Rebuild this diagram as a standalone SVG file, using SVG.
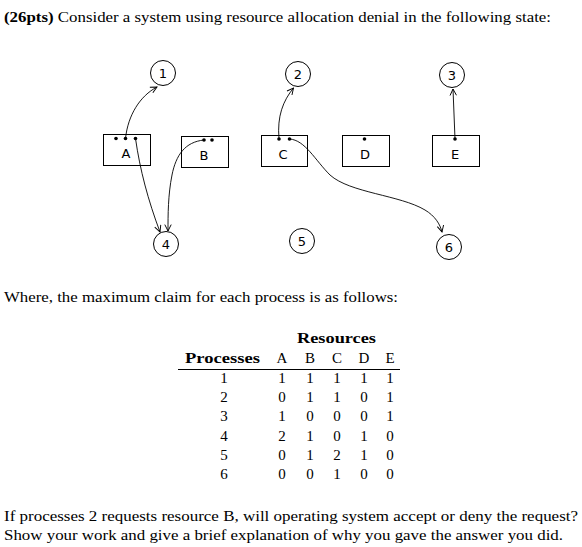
<svg xmlns="http://www.w3.org/2000/svg" width="582" height="547" viewBox="0 0 582 547">
<style>
.t{font-family:"Liberation Serif","Times New Roman",serif;font-size:15px;fill:#000}
.b{font-weight:bold}
.n{font-family:"DejaVu Sans",sans-serif;font-size:13px;fill:#000;text-anchor:middle}
.box{fill:#fff;stroke:#000;stroke-width:1}
.c{fill:#fff;stroke:#000;stroke-width:1}
.e{fill:none;stroke:#000;stroke-width:0.9;marker-end:url(#ah)}
.tc{text-anchor:middle}
</style>
<defs>
<marker id="ah" viewBox="0 0 10 10" refX="9" refY="5" markerWidth="8" markerHeight="8" markerUnits="userSpaceOnUse" orient="auto">
<path d="M1,1 L9,5 L1,9" fill="none" stroke="#000" stroke-width="1.2"/>
</marker>
</defs>
<rect width="582" height="547" fill="#fff"/>
<text class="t" x="4" y="22" textLength="547" lengthAdjust="spacingAndGlyphs"><tspan class="b">(26pts)</tspan> Consider a system using resource allocation denial in the following state:</text>

<g id="n1"><circle class="c" cx="163" cy="73" r="12.5"/><text class="n" x="163" y="77.5">1</text></g>
<g id="n2"><circle class="c" cx="298" cy="74" r="12.5"/><text class="n" x="298" y="78.5">2</text></g>
<g id="n3"><circle class="c" cx="452" cy="75" r="12.5"/><text class="n" x="452" y="79.5">3</text></g>
<g id="n4"><circle class="c" cx="166" cy="244" r="12.5"/><text class="n" x="166" y="248.5">4</text></g>
<g id="n5"><circle class="c" cx="302" cy="241" r="12.5"/><text class="n" x="302" y="245.5">5</text></g>
<g id="n6"><circle class="c" cx="449" cy="247" r="12.5"/><text class="n" x="449" y="251.5">6</text></g>

<g id="rA"><rect class="box" x="103.5" y="134.5" width="47" height="31"/><text class="n" x="126" y="158">A</text>
<circle cx="116" cy="138.5" r="1.8"/><circle cx="125.5" cy="138.5" r="1.8"/><circle cx="135.5" cy="138.5" r="1.8"/></g>
<g id="rB"><rect class="box" x="181.5" y="136.5" width="47" height="31"/><text class="n" x="204" y="159.5">B</text>
<circle cx="204" cy="140" r="1.8"/><circle cx="212" cy="140" r="1.8"/></g>
<g id="rC"><rect class="box" x="261.5" y="135.5" width="46" height="31"/><text class="n" x="283" y="159">C</text>
<circle cx="279" cy="139" r="1.8"/><circle cx="289.5" cy="139" r="1.8"/></g>
<g id="rD"><rect class="box" x="342.5" y="135.5" width="47" height="31"/><text class="n" x="365" y="159">D</text>
<circle cx="364.5" cy="139" r="1.8"/></g>
<g id="rE"><rect class="box" x="432.5" y="135.5" width="47" height="31"/><text class="n" x="455" y="159">E</text>
<circle cx="455" cy="139" r="1.8"/></g>

<g id="connectors">
<path class="e" d="M125.5,138.5 C128,115 140,96 157,87"/>
<path class="e" d="M135.5,138.5 C140,170 148,200 160,232"/>
<path class="e" d="M204,140 C185,142 176,155 172,175 C168,195 168,215 168,231"/>
<path class="e" d="M279,139 C277,116 283,101 293.5,88"/>
<path class="e" d="M455,139 L453,89"/>
<path class="e" d="M289.5,139 C305,140 315,160 330,175 C350,193 400,195 425,210 C435,216 440,224 442,232"/>
</g>

<text class="t" x="4" y="302" textLength="394" lengthAdjust="spacingAndGlyphs">Where, the maximum claim for each process is as follows:</text>

<g id="table">
<text class="t b" x="297" y="343" textLength="79" lengthAdjust="spacingAndGlyphs">Resources</text>
<text class="t b" x="185" y="363" textLength="75" lengthAdjust="spacingAndGlyphs">Processes</text>
<text class="t tc" x="282" y="363">A</text><text class="t tc" x="310" y="363">B</text><text class="t tc" x="337" y="363">C</text><text class="t tc" x="364" y="363">D</text><text class="t tc" x="390" y="363">E</text>
<line x1="178" y1="369.5" x2="400" y2="369.5" stroke="#000" stroke-width="1"/>
<g class="t tc">
<text x="224" y="383">1</text><text x="282" y="383">1</text><text x="310" y="383">1</text><text x="337" y="383">1</text><text x="364" y="383">1</text><text x="390" y="383">1</text>
<text x="224" y="402">2</text><text x="282" y="402">0</text><text x="310" y="402">1</text><text x="337" y="402">1</text><text x="364" y="402">0</text><text x="390" y="402">1</text>
<text x="224" y="421">3</text><text x="282" y="421">1</text><text x="310" y="421">0</text><text x="337" y="421">0</text><text x="364" y="421">0</text><text x="390" y="421">1</text>
<text x="224" y="441">4</text><text x="282" y="441">2</text><text x="310" y="441">1</text><text x="337" y="441">0</text><text x="364" y="441">1</text><text x="390" y="441">0</text>
<text x="224" y="460">5</text><text x="282" y="460">0</text><text x="310" y="460">1</text><text x="337" y="460">2</text><text x="364" y="460">1</text><text x="390" y="460">0</text>
<text x="224" y="479">6</text><text x="282" y="479">0</text><text x="310" y="479">0</text><text x="337" y="479">1</text><text x="364" y="479">0</text><text x="390" y="479">0</text>
</g>
</g>

<text class="t" x="4" y="521" textLength="574" lengthAdjust="spacingAndGlyphs">If processes 2 requests resource B, will operating system accept or deny the request?</text>
<text class="t" x="4" y="540" textLength="559" lengthAdjust="spacingAndGlyphs">Show your work and give a brief explanation of why you gave the answer you did.</text>
</svg>
